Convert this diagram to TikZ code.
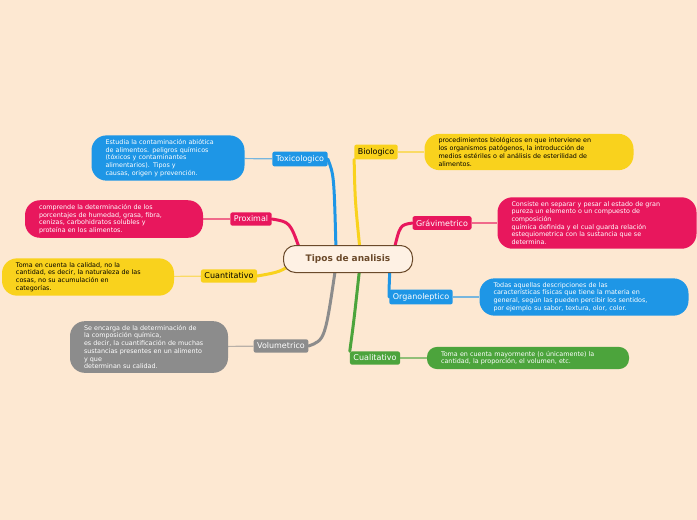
\documentclass[tikz,border=0pt]{standalone}
\usepackage{fontspec}
\setmainfont{DejaVu Sans}
\usetikzlibrary{backgrounds}
\definecolor{paper}{HTML}{FDE8D2}
\definecolor{azul}{HTML}{1E96E6}
\definecolor{rosa}{HTML}{E8175D}
\definecolor{amarillo}{HTML}{F9D21D}
\definecolor{gris}{HTML}{8C8C8C}
\definecolor{verde}{HTML}{4CA43C}
\definecolor{cafe}{HTML}{6B4A2B}
\tikzset{
  cat/.style={fill=#1, rounded corners=2pt, inner sep=3.5pt, font=\fontsize{8}{9.5}\selectfont, text=white},
  desc/.style={fill=#1, rounded corners=15pt, inner xsep=14pt, inner ysep=4pt, align=left, font=\fontsize{6.4}{7.7}\selectfont, text=white},
  rama/.style={draw=#1, line width=3pt, line cap=round},
  liga/.style={draw=#1, line width=1.2pt, opacity=0.6}
}
\begin{document}
\begin{tikzpicture}[x=1pt,y=-1pt]
  \useasboundingbox (0,0) rectangle (697,520);
  \node[draw=cafe, line width=1pt, fill=paper!60!white, rounded corners=12pt, minimum width=129pt, minimum height=27pt, font=\bfseries\fontsize{9}{11}\selectfont, text=cafe] (tipos) at (348,259) {Tipos de analisis};
  % categorias
  \node[cat=azul] (toxi) at (300,159) {Toxicologico};
  \node[cat=rosa] (prox) at (251,219) {Proximal};
  \node[cat=amarillo, text=black] (cuan) at (229,276) {Cuantitativo};
  \node[cat=gris] (volu) at (281,346) {Volumetrico};
  \node[cat=amarillo, text=black] (biol) at (376,152) {Biologico};
  \node[cat=rosa] (grav) at (442,223) {Grávimetrico};
  \node[cat=azul] (orga) at (421,297) {Organoleptico};
  \node[cat=verde] (cual) at (375,358) {Cualitativo};
  % descripciones
  \node[desc=azul, text width=125pt] (dtoxi) at (168,158) {Estudia la contaminación abiótica\\de alimentos. peligros químicos\\(tóxicos y contaminantes\\alimentarios). Tipos y\\causas, origen y prevención.};
  \node[desc=rosa, text width=150pt] (dprox) at (114,219) {comprende la determinación de los\\porcentajes de humedad, grasa, fibra,\\cenizas, carbohidratos solubles y\\proteína en los alimentos.};
  \node[desc=amarillo, text=black, text width=144pt] (dcuan) at (88,277) {Toma en cuenta la calidad, no la\\cantidad, es decir, la naturaleza de las\\cosas, no su acumulación en\\categorías.};
  \node[desc=gris, text width=130pt] (dvolu) at (149,347) {Se encarga de la determinación de\\la composición química,\\es decir, la cuantificación de muchas\\sustancias presentes en un alimento\\y que\\determinan su calidad.};
  \node[desc=amarillo, text=black, text width=181pt] (dbiol) at (529,152) {procedimientos biológicos en que interviene en\\los  organismos patógenos, la introducción de\\medios estériles o el análisis de esterilidad de\\alimentos.};
  \node[desc=rosa, text width=171pt] (dgrav) at (597,223) {Consiste en separar y pesar al estado de gran\\pureza un elemento o un compuesto de\\composición\\química definida y el cual guarda relación\\estequiometrica con la sustancia que se\\determina.};
  \node[desc=azul, text width=181pt] (dorga) at (584,297) {Todas aquellas descripciones de las\\características físicas que tiene la materia en\\general, según las pueden percibir los sentidos,\\por ejemplo su sabor, textura, olor, color.};
  \node[desc=verde, rounded corners=10pt, text width=174pt] (dcual) at (528,358) {Toma en cuenta mayormente (o únicamente) la\\cantidad, la proporción, el volumen, etc.};
  \begin{scope}[on background layer]
    \fill[paper] (0,0) rectangle (697,520);
    \draw[rama=azul] (toxi.east) .. controls (334,175) .. (336,250);
    \draw[rama=rosa] (prox.east) .. controls (290,222) .. (300,250);
    \draw[rama=amarillo] (cuan.east) .. controls (280,272) .. (295,262);
    \draw[rama=gris] (volu.east) .. controls (325,340) .. (336,265);
    \draw[rama=amarillo] (biol.south west) .. controls (355,200) .. (360,250);
    \draw[rama=rosa] (grav.west) .. controls (400,225) .. (394,250);
    \draw[rama=azul] (orga.west) .. controls (389,290) .. (390,265);
    \draw[rama=verde] (cual.north west) .. controls (354,320) .. (360,265);
    \draw[liga=azul] (toxi) -- (dtoxi);
    \draw[liga=rosa] (prox) -- (dprox);
    \draw[liga=amarillo] (cuan) -- (dcuan);
    \draw[liga=gris] (volu) -- (dvolu);
    \draw[liga=amarillo] (biol) -- (dbiol);
    \draw[liga=rosa] (grav) -- (dgrav);
    \draw[liga=azul] (orga) -- (dorga);
    \draw[liga=verde] (cual) -- (dcual);
  \end{scope}
\end{tikzpicture}
\end{document}
